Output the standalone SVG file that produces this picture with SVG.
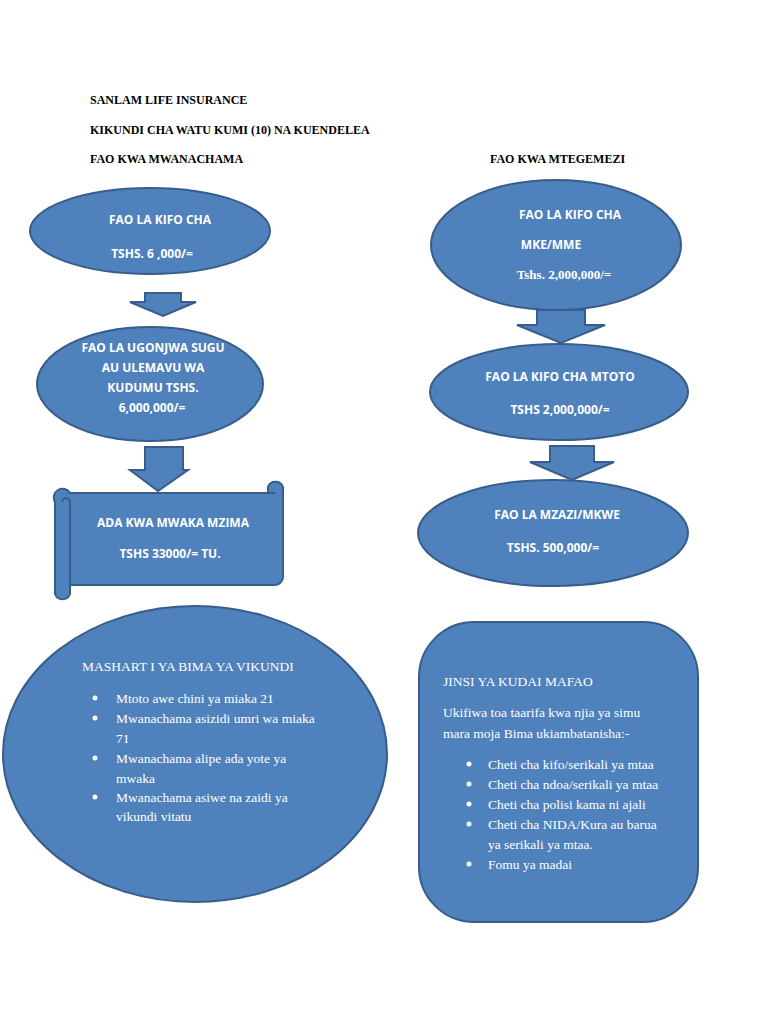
<svg xmlns="http://www.w3.org/2000/svg" width="768" height="1024" viewBox="0 0 768 1024">
<style>
.s{fill:#4f81bd;stroke:#385d8a;stroke-width:2}
.t{font-family:"Open Sans","Liberation Sans",sans-serif;font-size:12px;font-weight:bold;fill:#fff;text-anchor:middle}
.h{font-family:"Liberation Serif",serif;font-size:12px;font-weight:bold;fill:#000}
.b{font-family:"Liberation Serif",serif;font-size:13.5px;fill:#fff}
</style>
<rect width="768" height="1024" fill="#fff"/>
<text class="h" x="90" y="104">SANLAM LIFE INSURANCE</text>
<text class="h" x="90" y="134">KIKUNDI CHA WATU KUMI (10) NA KUENDELEA</text>
<text class="h" x="90" y="163">FAO KWA MWANACHAMA</text>
<text class="h" x="490" y="163">FAO KWA MTEGEMEZI</text>
<g id="connectors">
<polygon class="s" points="145,293 181,293 181,302 196,302 163,316 130,302 145,302"/>
<polygon class="s" points="145,447 183,447 183,470 188,470 158,491 130,470 145,470"/>
<polygon class="s" points="537,310 585,310 585,325 605,325 561,343 517,325 537,325"/>
<polygon class="s" points="550,446 594,446 594,462 614,462 572,480 530,462 550,462"/>
</g>
<g id="n1"><ellipse class="s" cx="150" cy="231" rx="120" ry="43"/>
<text class="t" x="160" y="224">FAO LA KIFO CHA</text><text class="t" x="152" y="258">TSHS. 6 ,000/=</text></g>
<g id="n2"><ellipse class="s" cx="150" cy="384" rx="113" ry="57"/>
<text class="t" x="153" y="352">FAO LA  UGONJWA SUGU</text><text class="t" x="153" y="372">AU ULEMAVU WA</text><text class="t" x="153" y="392">KUDUMU TSHS.</text><text class="t" x="152" y="412">6,000,000/=</text></g>
<g id="n3">
<path class="s" d="M70,493 H268 V487 a8,8 0 0 1 15,0 V577 a8,8 0 0 1 -8,8 H70 V594 a8,8 0 0 1 -15,0 V502 a8,8 0 0 1 15,-9 Z"/>
<path d="M62,502 a4,4 0 0 1 8,0 M275,493 H268 M70,502 V594" fill="none" stroke="#385d8a" stroke-width="2"/>
<text class="t" x="173" y="527">ADA KWA MWAKA MZIMA</text><text class="t" x="170" y="558">TSHS 33000/= TU.</text></g>
<g id="n4"><ellipse class="s" cx="195" cy="754" rx="192" ry="148"/>
<text class="b" x="82" y="671">MASHART I YA BIMA YA VIKUNDI</text>
<g font-size="13"><circle cx="95" cy="698" r="2.5" fill="#fff"/><text class="b" x="116" y="703">Mtoto awe chini ya miaka 21</text>
<circle cx="95" cy="718" r="2.5" fill="#fff"/><text class="b" x="116" y="723">Mwanachama asizidi umri wa miaka</text><text class="b" x="116" y="743">71</text>
<circle cx="95" cy="758" r="2.5" fill="#fff"/><text class="b" x="116" y="763">Mwanachama alipe ada  yote  ya</text><text class="b" x="116" y="783">mwaka</text>
<circle cx="95" cy="797" r="2.5" fill="#fff"/><text class="b" x="116" y="802">Mwanachama asiwe na zaidi ya</text><text class="b" x="116" y="821">vikundi vitatu</text></g></g>
<g id="n5"><ellipse class="s" cx="556" cy="245" rx="125" ry="65"/>
<text class="t" x="570" y="219">FAO LA KIFO CHA</text><text class="t" x="551" y="249">MKE/MME</text><text class="t" x="564" y="279" style="font-family:'Liberation Serif',serif;font-size:13px">Tshs. 2,000,000/=</text></g>
<g id="n6"><ellipse class="s" cx="559" cy="392" rx="129" ry="48"/>
<text class="t" x="560" y="381">FAO LA KIFO CHA  MTOTO</text><text class="t" x="560" y="414">TSHS 2,000,000/=</text></g>
<g id="n7"><ellipse class="s" cx="553" cy="533" rx="135" ry="53"/>
<text class="t" x="557" y="519">FAO LA MZAZI/MKWE</text><text class="t" x="553" y="552">TSHS. 500,000/=</text></g>
<g id="n8"><rect class="s" x="419" y="622" width="279" height="300" rx="55"/>
<text class="b" x="443" y="686">JINSI  YA KUDAI  MAFAO</text>
<text class="b" x="443" y="717">Ukifiwa toa taarifa kwa njia ya simu</text><text class="b" x="443" y="738">mara moja Bima ukiambatanisha:-</text>
<circle cx="469" cy="764" r="2.5" fill="#fff"/><text class="b" x="488" y="769">Cheti cha kifo/serikali ya mtaa</text>
<circle cx="469" cy="784" r="2.5" fill="#fff"/><text class="b" x="488" y="789">Cheti cha ndoa/serikali ya mtaa</text>
<circle cx="469" cy="804" r="2.5" fill="#fff"/><text class="b" x="488" y="809">Cheti cha polisi kama ni ajali</text>
<circle cx="469" cy="824" r="2.5" fill="#fff"/><text class="b" x="488" y="829">Cheti cha NIDA/Kura au barua</text><text class="b" x="488" y="849">ya serikali ya mtaa.</text>
<circle cx="469" cy="864" r="2.5" fill="#fff"/><text class="b" x="488" y="869">Fomu ya madai</text></g>
</svg>
